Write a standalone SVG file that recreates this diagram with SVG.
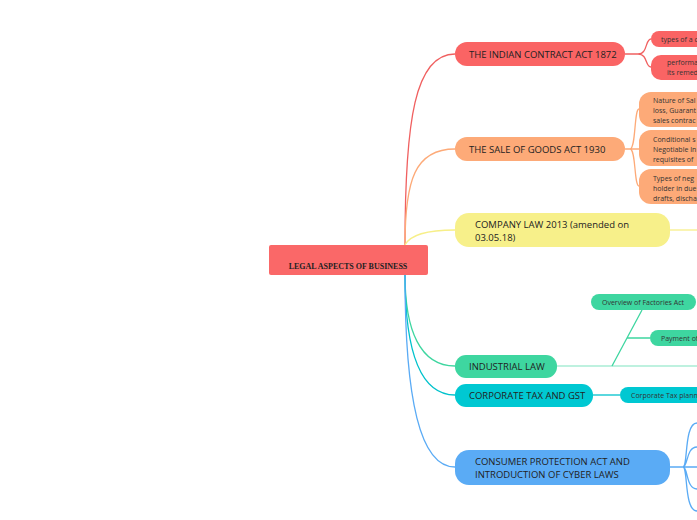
<svg xmlns="http://www.w3.org/2000/svg" width="697" height="520" viewBox="0 0 697 520">
<style>
text{font-family:"Open Sans","Noto Sans",sans-serif;}
.b{font-size:9.5px;fill:#222}
.s{font-size:7px;fill:#333}
.c{fill:none;stroke-width:1.3}
</style>
<rect width="697" height="520" fill="#fff"/>
<g id="connectors">
<path class="c" stroke="#f06060" d="M405,245 C405,120 415,54 455,54"/>
<path class="c" stroke="#fdaa78" d="M405,245 C405,180 415,149 455,149"/>
<path class="c" stroke="#f7ef88" d="M405,245 C410,235 425,230 455,230"/>
<path class="c" stroke="#3ed6a0" d="M405,275 C405,330 420,366 455,366"/>
<path class="c" stroke="#00c2cc" d="M405,275 C405,350 420,395 455,395"/>
<path class="c" stroke="#5aabf5" d="M405,275 C405,400 420,467 455,467"/>
<path class="c" stroke="#f06060" d="M625,54 H638 M638,54 C648,54 645,39 651,39 M638,54 C648,54 645,67 651,67"/>
<path class="c" stroke="#fdaa78" d="M625,149 H630 M630,149 C636,149 634,109 639,109 M630,149 H639 M630,149 C636,149 634,186 639,186"/>
<path class="c" stroke="#f7ef88" d="M670,230 H697"/>
<path class="c" stroke="#a8ecd4" d="M557,366 H697"/>
<path class="c" stroke="#3ed6a0" d="M612,366 L642,310 M627,338 H650"/>
<path class="c" stroke="#00c2cc" d="M593,395 H620"/>
<path class="c" stroke="#5aabf5" d="M670,467 H683 M683,467 C688,467 684,423 697,423 M683,467 C688,467 686,447 697,447 M683,467 H697 M683,467 C688,467 686,489 697,489 M683,467 C688,467 684,511 697,511"/>
</g>
<g id="root"><rect x="269" y="245" width="159" height="30" rx="2" fill="#fa6868"/>
<text x="348" y="269" text-anchor="middle" style="font-family:'Liberation Serif',serif;font-size:8px;font-weight:bold;fill:#222">LEGAL ASPECTS OF BUSINESS</text></g>
<g id="n1"><rect x="455" y="42" width="170" height="24" rx="12" fill="#fa6464"/><text class="b" x="469" y="58">THE INDIAN CONTRACT ACT 1872</text></g>
<g id="n1a"><rect x="651" y="31" width="60" height="16" rx="8" fill="#fa6464"/><text class="s" x="661" y="42">types of a c</text></g>
<g id="n1b"><rect x="651" y="55" width="60" height="25" rx="10" fill="#fa6464"/><text class="s" x="667" y="65">performa</text><text class="s" x="667" y="75">its remed</text></g>
<g id="n2"><rect x="455" y="137" width="170" height="24" rx="12" fill="#fdaa78"/><text class="b" x="469" y="153">THE SALE OF GOODS ACT 1930</text></g>
<g id="n2a"><rect x="639" y="92" width="70" height="35" rx="12" fill="#fdaa78"/><text class="s" x="653" y="103">Nature of Sal</text><text class="s" x="653" y="113">loss, Guarant</text><text class="s" x="653" y="123">sales contrac</text></g>
<g id="n2b"><rect x="639" y="130" width="70" height="36" rx="12" fill="#fdaa78"/><text class="s" x="653" y="142">Conditional s</text><text class="s" x="653" y="152">Negotiable In</text><text class="s" x="653" y="162">requisites of</text></g>
<g id="n2c"><rect x="639" y="169" width="70" height="35" rx="12" fill="#fdaa78"/><text class="s" x="653" y="181">Types of neg</text><text class="s" x="653" y="191">holder in due</text><text class="s" x="653" y="201">drafts, discha</text></g>
<g id="n3"><rect x="455" y="213" width="215" height="34" rx="14" fill="#f7f08a"/><text class="b" x="475" y="228">COMPANY LAW 2013 (amended on</text><text class="b" x="475" y="241">03.05.18)</text></g>
<g id="n4"><rect x="455" y="355" width="102" height="23" rx="11" fill="#3ed6a0"/><text class="b" x="469" y="370">INDUSTRIAL LAW</text></g>
<g id="n4a"><rect x="591" y="294" width="105" height="16" rx="8" fill="#3ed6a0"/><text class="s" x="643" y="305" text-anchor="middle">Overview of Factories Act</text></g>
<g id="n4b"><rect x="650" y="330" width="60" height="16" rx="8" fill="#3ed6a0"/><text class="s" x="661" y="341">Payment of</text></g>
<g id="n5"><rect x="455" y="384" width="138" height="23" rx="11" fill="#00c8d2"/><text class="b" x="469" y="399">CORPORATE TAX AND GST</text></g>
<g id="n5a"><rect x="620" y="387" width="90" height="16" rx="8" fill="#00c8d2"/><text class="s" x="631" y="398">Corporate Tax planni</text></g>
<g id="n6"><rect x="455" y="450" width="215" height="35" rx="14" fill="#5aabf5"/><text class="b" x="475" y="465">CONSUMER PROTECTION ACT AND</text><text class="b" x="475" y="478">INTRODUCTION OF CYBER LAWS</text></g>
</svg>
